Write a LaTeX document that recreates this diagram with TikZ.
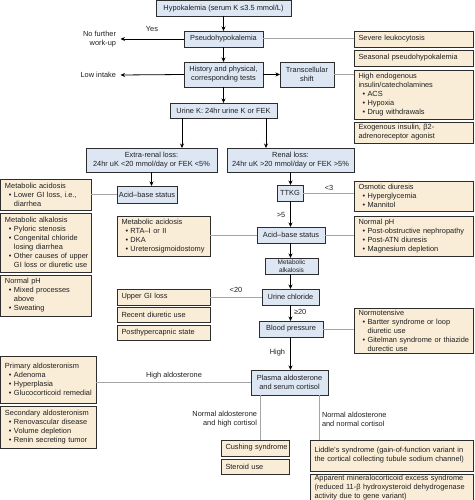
\documentclass[tikz,border=0pt]{standalone}
\usepackage{fontspec}
\setmainfont{Liberation Sans}
\usetikzlibrary{arrows.meta}
\definecolor{decfill}{RGB}{221,231,244}
\definecolor{resfill}{RGB}{250,237,216}
\definecolor{bord}{RGB}{45,45,45}
\definecolor{glin}{RGB}{165,165,165}
\definecolor{txt}{RGB}{30,30,30}
\newcommand{\decbox}[7][]{%
 \pgfmathsetmacro{\mybw}{#5-#3}\pgfmathsetmacro{\mybh}{#6-#4}%
 \node[decb,#1,minimum width=\mybw pt,minimum height=\mybh pt,anchor=north west] (#2) at (#3,#4) {#7};}
\newcommand{\resbox}[6]{%
 \pgfmathsetmacro{\mybw}{#4-#2}\pgfmathsetmacro{\mybh}{#5-#3}\pgfmathsetmacro{\mytw}{#4-#2-9}%
 \node[resb,minimum width=\mybw pt,minimum height=\mybh pt,text width=\mytw pt,anchor=north west] (#1) at (#2,#3) {#6};}
\newcommand{\resH}[1]{\mbox{#1}}
\newcommand{\resB}[1]{\mbox{\hspace*{4pt}\makebox[5pt][l]{•}#1}}
\newcommand{\resC}[1]{\mbox{\hspace*{9pt}#1}}
\tikzset{
 every node/.style={font=\fontsize{7.4}{9}\selectfont, text=txt},
 decb/.style={draw=bord, fill=decfill, line width=0.9pt, inner sep=1pt, outer sep=0pt, align=center},
 resb/.style={draw=bord, fill=resfill, line width=0.9pt, inner xsep=4.5pt, inner ysep=1pt, outer sep=0pt, align=left},
 arr/.style={draw=black, line width=0.8pt, -{Stealth[length=4.5pt,width=4pt]}},
 gl/.style={draw=glin, line width=1pt},
 lbl/.style={inner sep=0pt, outer sep=0pt},
}
\begin{document}
\begin{tikzpicture}[x=1pt,y=-1pt]
\clip (0,0) rectangle (474,500);
% decision boxes
\decbox{hypo}{156}{0.5}{291}{16}{Hypokalemia (serum K ≤3.5 mmol/L)}
\decbox{pseudo}{184}{31}{263}{47}{Pseudohypokalemia}
\decbox{hist}{184}{62}{263}{87}{History and physical,\\corresponding tests}
\decbox{trans}{280}{62}{334}{87}{Transcellular\\shift}
\decbox{urk}{170}{103}{277}{118}{Urine K: 24hr urine K or FEK}
\decbox{extra}{86}{148}{217}{172}{Extra-renal loss:\\24hr uK <20 mmol/day or FEK <5\%}
\decbox{renal}{227}{148}{354}{172}{Renal loss:\\24hr uK >20 mmol/day or FEK >5\%}
\decbox{abL}{117}{186}{177}{203}{Acid–base status}
\decbox{ttkg}{277}{185}{303}{201}{TTKG}
\decbox{abR}{257}{227}{325}{243}{Acid–base status}
\decbox[font=\fontsize{6.5}{7.7}\selectfont]{malk}{265}{258}{318}{274}{Metabolic\\alkalosis}
\decbox{uchl}{262}{289}{319}{305}{Urine chloride}
\decbox{bp}{259}{321}{323}{337}{Blood pressure}
\decbox{plasma}{251}{370}{328}{395}{Plasma aldosterone\\and serum cortisol}
% result boxes
\resbox{sev}{354}{31}{473.5}{47}{\resH{Severe leukocytosis}}
\resbox{seas}{354}{50}{473.5}{66}{\resH{Seasonal pseudohypokalemia}}
\resbox{hiend}{354}{70}{473.5}{119}{\resH{High endogenous}\\\resH{insulin/catecholamines}\\\resB{ACS}\\\resB{Hypoxia}\\\resB{Drug withdrawals}}
\resbox{exo}{354}{122}{473.5}{143}{\resH{Exogenous insulin, β2-}\\\resH{adrenoreceptor agonist}}
\resbox{osm}{354}{181}{473.5}{211}{\resH{Osmotic diuresis}\\\resB{Hyperglycemia}\\\resB{Mannitol}}
\resbox{npR}{354}{216}{473.5}{256}{\resH{Normal pH}\\\resB{Post-obstructive nephropathy}\\\resB{Post-ATN diuresis}\\\resB{Magnesium depletion}}
\resbox{normo}{354}{308}{473.5}{353}{\resH{Normotensive}\\\resB{Bartter syndrome or loop}\\\resC{diuretic use}\\\resB{Gitelman syndrome or thiazide}\\\resC{durectic use}}
\resbox{macL}{0.5}{179}{91}{210}{\resH{Metabolic acidosis}\\\resB{Lower GI loss, i.e.,}\\\resC{diarrhea}}
\resbox{malkL}{0.5}{213}{91}{272}{\resH{Metabolic alkalosis}\\\resB{Pyloric stenosis}\\\resB{Congenital chloride}\\\resC{losing diarrhea}\\\resB{Other causes of upper}\\\resC{GI loss or diuretic use}}
\resbox{npL}{0.5}{275}{91}{316}{\resH{Normal pH}\\\resB{Mixed processes}\\\resC{above}\\\resB{Sweating}}
\resbox{macM}{117}{216}{210}{256}{\resH{Metabolic acidosis}\\\resB{RTA–I or II}\\\resB{DKA}\\\resB{Ureterosigmoidostomy}}
\resbox{ugi}{117}{289}{210}{305}{\resH{Upper GI loss}}
\resbox{rdu}{117}{307}{210}{322}{\resH{Recent diuretic use}}
\resbox{phc}{117}{325}{210}{340}{\resH{Posthypercapnic state}}
\resbox{prim}{0.5}{356}{96}{403}{\resH{Primary aldosteronism}\\\resB{Adenoma}\\\resB{Hyperplasia}\\\resB{Glucocorticoid remedial}}
\resbox{sec}{0.5}{406}{96}{448}{\resH{Secondary aldosteronism}\\\resB{Renovascular disease}\\\resB{Volume depletion}\\\resB{Renin secreting tumor}}
\resbox{cush}{221}{440}{289}{456}{\resH{Cushing syndrome}}
\resbox{ster}{221}{459}{289}{474}{\resH{Steroid use}}
\resbox{lid}{310}{440}{473.5}{471}{\resH{Liddle’s syndrome (gain-of-function variant in}\\\resH{the cortical collecting tubule sodium channel)}}
\resbox{ame}{310}{474}{473.5}{501}{\resH{Apparent mineralocorticoid excess syndrome}\\\resH{(reduced 11-β hydroxysteroid dehydrogenase}\\\resH{activity due to gene variant)}}
% labels
\node[lbl, anchor=east, align=right] (nfw) at (116,39) {No further\\work-up};
\node[lbl, anchor=east] (low) at (116,75) {Low intake};
\node[lbl] (yes) at (152,29) {Yes};
\node[lbl] (lt3) at (329,188) {<3};
\node[lbl] (gt5) at (281,215) {>5};
\node[lbl] (lt20) at (236,290) {<20};
\node[lbl, anchor=west] (ge20) at (294,312) {≥20};
\node[lbl] (high) at (277.5,353) {High};
\node[lbl] (hald) at (174,376) {High aldosterone};
\node[lbl, anchor=east, align=right] (nahc) at (257,419) {Normal aldosterone\\and high cortisol};
\node[lbl, anchor=west, align=left] (nanc) at (322,419) {Normal aldosterone\\and normal cortisol};
% coordinates
\coordinate (xa) at (182,0);
\coordinate (xb) at (266,0);
\coordinate (xr) at (290.5,0);
\coordinate (xc) at (260,0);
\coordinate (xd) at (319,0);
% arrows
\draw[arr] (hypo) -- (pseudo);
\draw[arr] (pseudo) -- (hist);
\draw[arr] (hist) -- (urk);
\draw[arr] (hist) -- (trans);
\draw[arr] (pseudo.west) -- ([xshift=4.5pt]nfw.east);
\draw[arr] (hist.west) -- ([xshift=4.5pt]low.east);
\draw[arr] (urk.south -| xa) -- (extra.north -| xa);
\draw[arr] (urk.south -| xb) -- (renal.north -| xb);
\draw[arr] (extra.south) -- (extra.south |- abL.north);
\draw[arr] (renal.south -| xr) -- (ttkg.north -| xr);
\draw[arr] (ttkg.south -| xr) -- (abR.north -| xr);
\draw[arr] (abR.south -| xr) -- (malk.north -| xr);
\draw[arr] (malk.south -| xr) -- (uchl.north -| xr);
\draw[arr] (uchl.south -| xr) -- (bp.north -| xr);
\draw[arr] (bp.south -| xr) -- (plasma.north -| xr);
% grey connectors
\draw[gl] (pseudo.east) -- (pseudo.east -| sev.west);
\draw[gl] (trans.east) -- (trans.east -| hiend.west);
\draw[gl] (abL.west) -- (abL.west -| macL.east);
\draw[gl] (macM.east |- abR.west) -- (abR.west);
\draw[gl] (ttkg.east) -- (ttkg.east -| osm.west);
\draw[gl] (abR.east) -- (abR.east -| npR.west);
\draw[gl] (uchl.west) -- (uchl.west -| ugi.east);
\draw[gl] (bp.east) -- (bp.east -| normo.west);
\draw[gl] (plasma.west) -- (plasma.west -| prim.east);
\draw[gl] (plasma.south -| xc) -- (cush.north -| xc);
\draw[gl] (plasma.south -| xd) -- (lid.north -| xd);
\end{tikzpicture}
\end{document}
